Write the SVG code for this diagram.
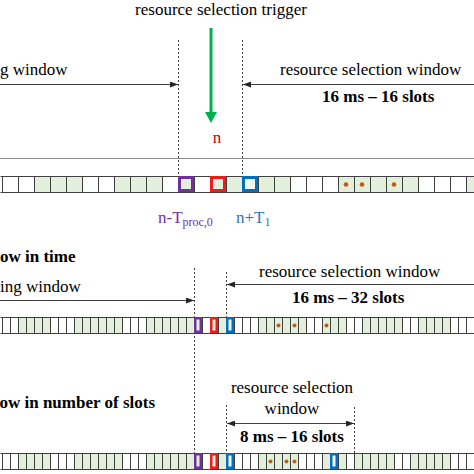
<svg xmlns="http://www.w3.org/2000/svg" width="474" height="474" viewBox="0 0 474 474">
<style>
text{font-family:"Liberation Serif","Times New Roman",serif;font-size:17px;fill:#000}
.b{font-weight:bold}
.sub{font-size:12px}
.g{fill:#e2efda}
.pb{fill:#f0f6ec}
.grid{fill:none;stroke:#404040;stroke-width:1}
.dot{fill:none;stroke:#404040;stroke-width:1;stroke-dasharray:2 2}
.arr{fill:none;stroke:#404040;stroke-width:1}
.pur{fill:none;stroke:#7030a0}
.red{fill:none;stroke:#ee1c1c}
.blu{fill:none;stroke:#0070c0}
.d{fill:#c55a11}
</style>
<defs>
<marker id="ah" viewBox="0 0 8 6" refX="8" refY="3" markerWidth="8" markerHeight="6" markerUnits="userSpaceOnUse" orient="auto-start-reverse">
<path d="M0 0L8 3L0 6z" fill="#262626"/>
</marker>
</defs>
<rect width="474" height="474" fill="#fff"/>
<line x1="0" y1="158.5" x2="474" y2="158.5" stroke="#8c8c8c" stroke-width="1"/>

<g id="connectors">
<line class="dot" x1="178.5" y1="40" x2="178.5" y2="176"/>
<line class="dot" x1="242.5" y1="40" x2="242.5" y2="176"/>
<line class="arr" x1="0" y1="84.5" x2="178" y2="84.5" marker-end="url(#ah)"/>
<line class="arr" x1="474" y1="84.5" x2="243" y2="84.5" marker-end="url(#ah)"/>
<line x1="211" y1="28" x2="211" y2="113" stroke="#00b050" stroke-width="3"/>
<path d="M205 112L217 112L211 123z" fill="#00b050"/>
<line class="dot" x1="194.5" y1="268" x2="194.5" y2="453"/>
<line class="dot" x1="226.5" y1="272" x2="226.5" y2="317"/>
<line class="arr" x1="0" y1="300.5" x2="194" y2="300.5" marker-end="url(#ah)"/>
<line class="arr" x1="474" y1="284.5" x2="227" y2="284.5" marker-end="url(#ah)"/>
<line class="dot" x1="226.5" y1="405" x2="226.5" y2="453"/>
<line class="dot" x1="354.5" y1="407" x2="354.5" y2="469"/>
<line class="arr" x1="227" y1="423.5" x2="354" y2="423.5" marker-start="url(#ah)" marker-end="url(#ah)"/>
</g>

<g id="texts">
<text x="221" y="15" text-anchor="middle">resource selection trigger</text>
<text x="0" y="75">g window</text>
<text x="280" y="75">resource selection window</text>
<text class="b" x="322" y="102">16 ms – 16 slots</text>
<text x="217" y="143" text-anchor="middle" style="fill:#c00000">n</text>
<text x="158" y="223" style="fill:#7030a0">n-T<tspan class="sub" dy="3">proc,0</tspan></text>
<text x="236" y="223" style="fill:#2e75b6">n+T<tspan class="sub" dy="3">1</tspan></text>
<text class="b" x="0" y="262">ow in time</text>
<text x="0" y="292">ing window</text>
<text x="259" y="277">resource selection window</text>
<text class="b" x="292" y="303">16 ms – 32 slots</text>
<text class="b" x="155" y="408" text-anchor="end">ow in number of slots</text>
<text x="292" y="393" text-anchor="middle">resource selection</text>
<text x="292" y="414" text-anchor="middle">window</text>
<text class="b" x="240" y="442">8 ms – 16 slots</text>
</g>

<g id="row1">
<rect class="g" x="34" y="176" width="48" height="16"/>
<rect class="g" x="114" y="176" width="48" height="16"/>
<rect class="g" x="178" y="176" width="16" height="16"/>
<rect class="g" x="210" y="176" width="32" height="16"/>
<rect class="pb" x="242" y="176" width="16" height="16"/>
<rect class="g" x="258" y="176" width="32" height="16"/>
<rect class="g" x="338" y="176" width="80" height="16"/>
<rect class="g" x="466" y="176" width="16" height="16"/>
<path class="grid" transform="translate(0.5,0.5)" d="M0 176H474M0 192H474M2 176v16M18 176v16M34 176v16M50 176v16M66 176v16M82 176v16M98 176v16M114 176v16M130 176v16M146 176v16M162 176v16M178 176v16M194 176v16M210 176v16M226 176v16M242 176v16M258 176v16M274 176v16M290 176v16M306 176v16M322 176v16M338 176v16M354 176v16M370 176v16M386 176v16M402 176v16M418 176v16M434 176v16M450 176v16M466 176v16"/>
<rect class="pur" x="179.5" y="177.5" width="13" height="13" stroke-width="3"/>
<rect class="red" x="211.5" y="177.5" width="13" height="13" stroke-width="3"/>
<rect class="blu" x="243.5" y="177.5" width="13" height="13" stroke-width="3"/>
<circle class="d" cx="346" cy="184.5" r="2.3"/>
<circle class="d" cx="362" cy="184.5" r="2.3"/>
<circle class="d" cx="394" cy="184.5" r="2.3"/>
</g>

<g id="row2">
<rect class="g" x="18" y="317" width="32" height="16"/>
<rect class="g" x="74" y="317" width="48" height="16"/>
<rect class="g" x="146" y="317" width="56" height="16"/>
<rect class="g" x="210" y="317" width="16" height="16"/>
<rect class="pb" x="226" y="317" width="8" height="16"/>
<rect class="g" x="258" y="317" width="48" height="16"/>
<rect class="g" x="322" y="317" width="24" height="16"/>
<rect class="g" x="362" y="317" width="40" height="16"/>
<rect class="g" x="418" y="317" width="32" height="16"/>
<path class="grid" transform="translate(0.5,0.5)" d="M0 317H474M0 333H474M2 317v16M10 317v16M18 317v16M26 317v16M34 317v16M42 317v16M50 317v16M58 317v16M66 317v16M74 317v16M82 317v16M90 317v16M98 317v16M106 317v16M114 317v16M122 317v16M130 317v16M138 317v16M146 317v16M154 317v16M162 317v16M170 317v16M178 317v16M186 317v16M194 317v16M202 317v16M210 317v16M218 317v16M226 317v16M234 317v16M242 317v16M250 317v16M258 317v16M266 317v16M274 317v16M282 317v16M290 317v16M298 317v16M306 317v16M314 317v16M322 317v16M330 317v16M338 317v16M346 317v16M354 317v16M362 317v16M370 317v16M378 317v16M386 317v16M394 317v16M402 317v16M410 317v16M418 317v16M426 317v16M434 317v16M442 317v16M450 317v16M458 317v16M466 317v16"/>
<rect class="pur" x="195.25" y="318.25" width="5.5" height="13.5" stroke-width="2.5"/>
<rect class="red" x="211.25" y="318.25" width="5.5" height="13.5" stroke-width="2.5"/>
<rect class="blu" x="227.25" y="318.25" width="5.5" height="13.5" stroke-width="2.5"/>
<circle class="d" cx="278.5" cy="325.5" r="2"/>
<circle class="d" cx="294.5" cy="325.5" r="2"/>
<circle class="d" cx="326.5" cy="325.5" r="2"/>
</g>

<g id="row3">
<rect class="g" x="18" y="453" width="32" height="16"/>
<rect class="g" x="74" y="453" width="48" height="16"/>
<rect class="g" x="146" y="453" width="56" height="16"/>
<rect class="g" x="210" y="453" width="16" height="16"/>
<rect class="pb" x="226" y="453" width="8" height="16"/>
<rect class="g" x="258" y="453" width="40" height="16"/>
<rect class="g" x="322" y="453" width="8" height="16"/>
<rect class="pb" x="330" y="453" width="8" height="16"/>
<rect class="g" x="338" y="453" width="8" height="16"/>
<rect class="g" x="354" y="453" width="40" height="16"/>
<rect class="g" x="410" y="453" width="40" height="16"/>
<path class="grid" transform="translate(0.5,0.5)" d="M0 453H474M0 469H474M2 453v16M10 453v16M18 453v16M26 453v16M34 453v16M42 453v16M50 453v16M58 453v16M66 453v16M74 453v16M82 453v16M90 453v16M98 453v16M106 453v16M114 453v16M122 453v16M130 453v16M138 453v16M146 453v16M154 453v16M162 453v16M170 453v16M178 453v16M186 453v16M194 453v16M202 453v16M210 453v16M218 453v16M226 453v16M234 453v16M242 453v16M250 453v16M258 453v16M266 453v16M274 453v16M282 453v16M290 453v16M298 453v16M306 453v16M314 453v16M322 453v16M330 453v16M338 453v16M346 453v16M354 453v16M362 453v16M370 453v16M378 453v16M386 453v16M394 453v16M402 453v16M410 453v16M418 453v16M426 453v16M434 453v16M442 453v16M450 453v16M458 453v16M466 453v16"/>
<rect class="pur" x="195.25" y="454.25" width="5.5" height="13.5" stroke-width="2.5"/>
<rect class="red" x="211.25" y="454.25" width="5.5" height="13.5" stroke-width="2.5"/>
<rect class="blu" x="227.25" y="454.25" width="5.5" height="13.5" stroke-width="2.5"/>
<rect class="blu" x="331.25" y="454.25" width="5.5" height="13.5" stroke-width="2.5"/>
<circle class="d" cx="270.5" cy="461.5" r="2"/>
<circle class="d" cx="286.5" cy="461.5" r="2"/>
<circle class="d" cx="294.5" cy="461.5" r="2"/>
</g>
</svg>
